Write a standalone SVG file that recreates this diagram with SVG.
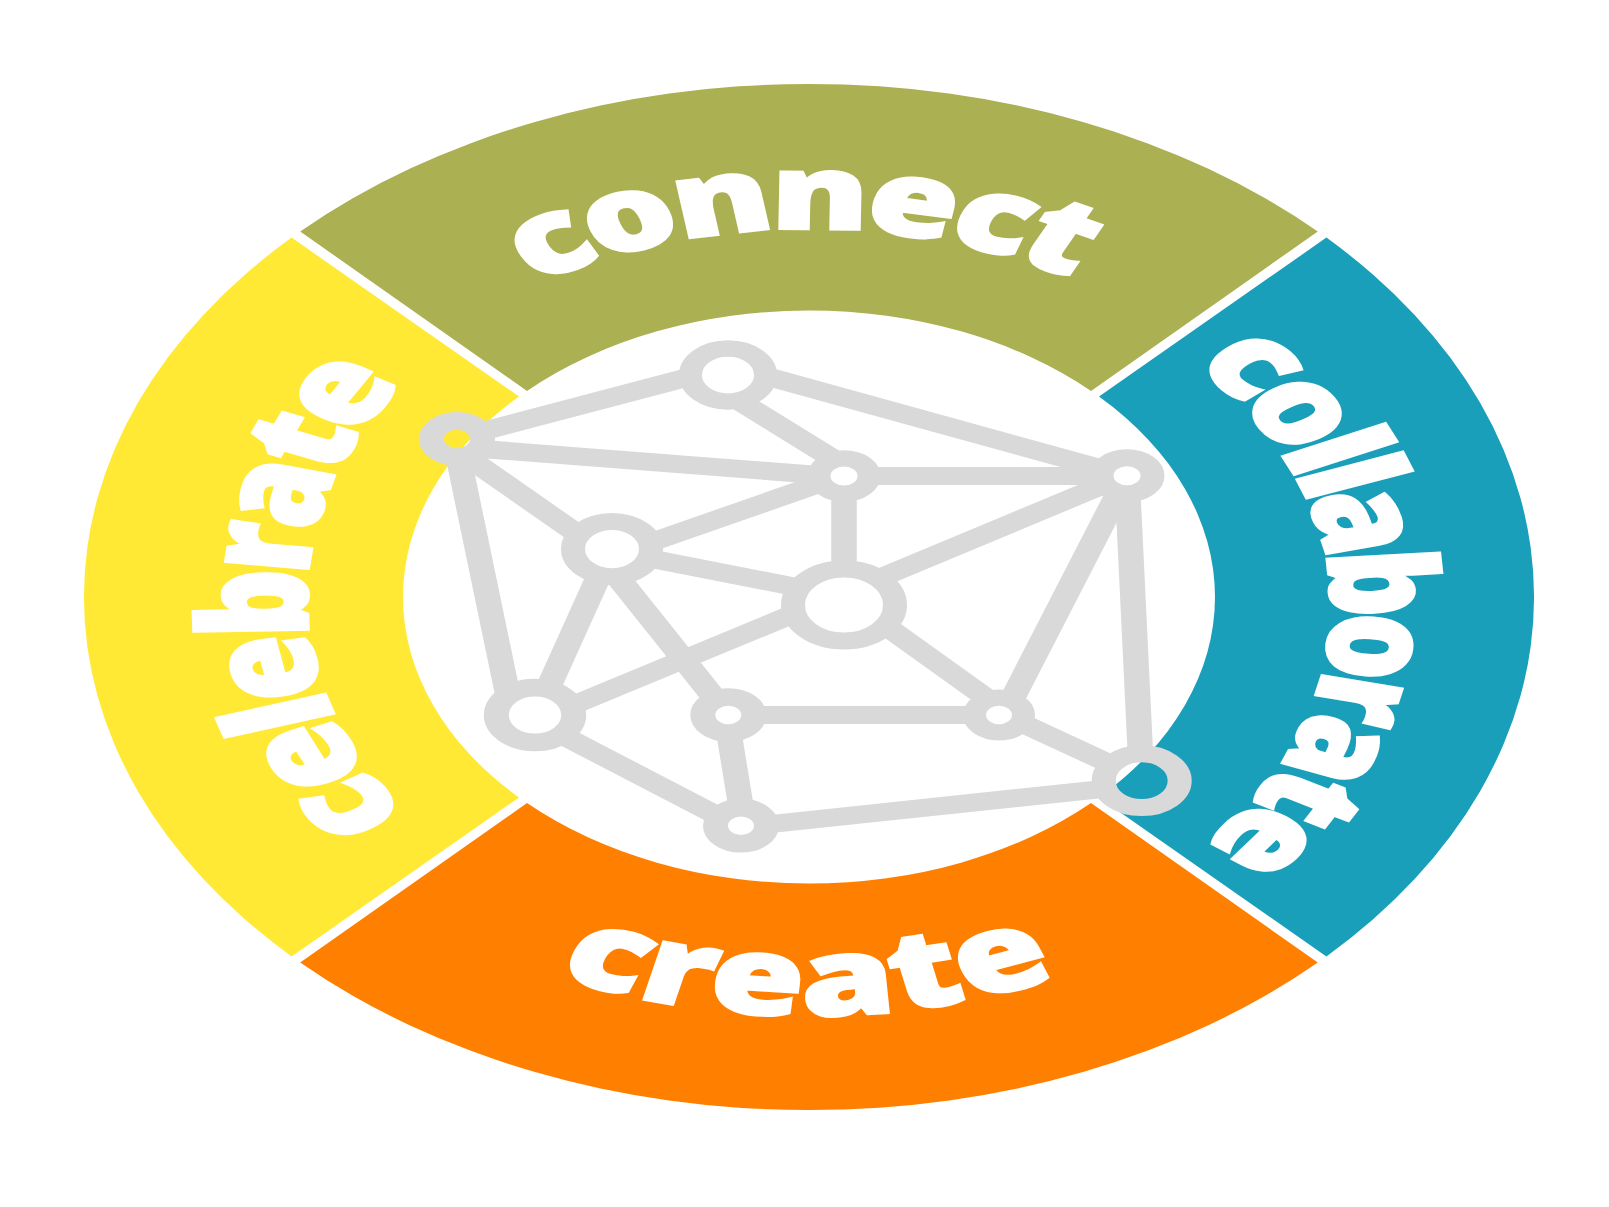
<svg xmlns="http://www.w3.org/2000/svg" width="1609" height="1207" viewBox="0 0 1609 1207">
<style>
.lbl{font-family:"Open Sans","Noto Sans","Liberation Sans",sans-serif;font-weight:800;fill:#fff;stroke:#fff;stroke-width:3.5;text-anchor:middle}
.edge{stroke:#d9d9d9;stroke-width:25.5;fill:none}
.ring{stroke:#d9d9d9;fill:#fff}
.hollow{fill:none}
</style>
<defs>
<path id="pConnect" d="M-520 0A520 520 0 0 1 520 0"/>
<path id="pCollaborate" d="M21 -485.500A501 501 0 0 1 21 516.500"/>
<path id="pCelebrate" d="M18 520A520 520 0 0 1 18 -520"/>
<path id="pCreate" d="M-592 0A592 592 0 0 0 592 0"/>
</defs>
<rect width="1609" height="1207" fill="#fff"/>
<g id="connect"><path fill="#abb052" d="M300.2 231.500A725 513 0 0 1 1317.800 231.500L1091 390.900A406 286.500 0 0 0 527 390.900Z"/></g>
<g id="collaborate"><path fill="#1a9fba" d="M1326.400 237.600A725 513 0 0 1 1326.400 956.400L1099 797.500A406 286.500 0 0 0 1099 396.500Z"/></g>
<g id="create"><path fill="#ff8000" d="M1317.800 962.500A725 513 0 0 1 300.200 962.500L527 803.100A406 286.500 0 0 0 1091 803.100Z"/></g>
<g id="celebrate"><path fill="#ffe935" d="M291.600 956.400A725 513 0 0 1 291.600 237.600L519 396.500A406 286.500 0 0 0 519 797.500Z"/></g>
<g transform="translate(809 597) scale(1 .7076)">
<g id="labels">
<text class="lbl" font-size="146" letter-spacing="-7"><textPath href="#pConnect" startOffset="49.4%">connect</textPath></text>
<text class="lbl" font-size="148" letter-spacing="-12"><textPath href="#pCollaborate" startOffset="49.3%">collaborate</textPath></text>
<text class="lbl" font-size="150" letter-spacing="-10"><textPath href="#pCelebrate" startOffset="49.55%">celebrate</textPath></text>
<text class="lbl" font-size="152" letter-spacing="3"><textPath href="#pCreate" startOffset="50%">create</textPath></text>
</g>
<g id="connectors" class="edge">
<path d="M-328 -233.600L-81 -325.500"/>
<path d="M-327 -209.200L35 -169.600"/>
<path d="M-339 -195L-197 -55.100"/>
<path d="M-350 -193.600L-297 166.800"/>
<path d="M-81 -286.900L35 -185.700"/>
<path d="M-81 -327L318 -171.400"/>
<path d="M35 -171H318"/>
<path d="M-197 -57.900L35 -172.400"/>
<path d="M35 -171V11.300"/>
<path d="M35 -5.700L318 -172.400"/>
<path d="M195 166.800L318 -171"/>
<path d="M318 -171L331.400 221.500"/>
<path d="M-197 -65L35 -.7"/>
<path d="M-198 -67.800L-273 166.800"/>
<path d="M-197 -38.200L-81 166.800"/>
<path d="M-274 175.200L35 -5.700"/>
<path d="M35 -1.400L190 155.500"/>
<path d="M-274 175.200L-68 326.500"/>
<path d="M-81 166.800H190"/>
<path d="M-83 166.800L-65 322.200"/>
<path d="M190 163.200L298.500 234.300"/>
<path d="M-69 325.500L295 271.200"/>
</g>
<g id="nodeA"><circle class="ring hollow" cx="-352" cy="-223.300" r="25.500" stroke-width="25"/></g>
<g id="nodeB"><circle class="ring" cx="-81" cy="-313.700" r="37.500" stroke-width="23"/></g>
<g id="nodeC"><circle class="ring" cx="35" cy="-171" r="25" stroke-width="23"/></g>
<g id="nodeD"><circle class="ring" cx="318" cy="-171.400" r="25.500" stroke-width="24"/></g>
<g id="nodeE"><circle class="ring" cx="-197" cy="-67.800" r="39" stroke-width="24"/></g>
<g id="nodeF"><circle class="ring" cx="35" cy="11.300" r="51" stroke-width="24"/></g>
<g id="nodeG"><circle class="ring" cx="-274" cy="166.800" r="38.700" stroke-width="25"/></g>
<g id="nodeH"><circle class="ring" cx="-80.700" cy="166.800" r="25.500" stroke-width="25"/></g>
<g id="nodeI"><circle class="ring" cx="190" cy="166.800" r="24.500" stroke-width="23"/></g>
<g id="nodeJ"><circle class="ring" cx="-68" cy="323.200" r="25.500" stroke-width="25"/></g>
<g id="nodeK"><circle class="ring hollow" cx="332.700" cy="259.600" r="38" stroke-width="24"/></g>
</g>
</svg>
